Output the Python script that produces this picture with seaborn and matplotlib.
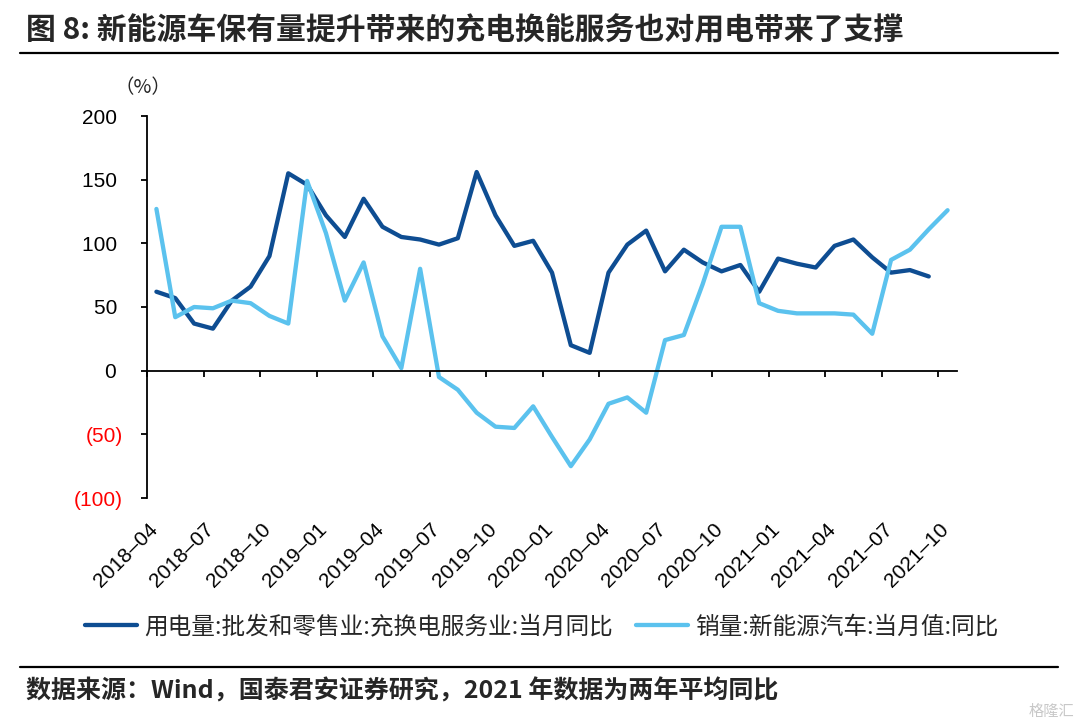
import matplotlib.pyplot as plt
import matplotlib.transforms as mtransforms
from matplotlib.font_manager import FontProperties
from matplotlib.lines import Line2D
import numpy as np
import pandas as pd
import seaborn as sns

# monthly, 2018-04 .. 2021-10 (43 months), labels every 3 months
TICK_LABELS = ['2018–04', '2018–07', '2018–10', '2019–01', '2019–04',
               '2019–07', '2019–10', '2020–01', '2020–04', '2020–07',
               '2020–10', '2021–01', '2021–04', '2021–07', '2021–10']

# 用电量:批发和零售业:充换电服务业:当月同比 (ends 2021-09)
ELEC = [62, 57, 37, 33, 55, 66, 90, 155, 146, 122,
        105, 135, 113, 105, 103, 99, 104, 156, 122, 98,
        102, 77, 20, 14, 77, 99, 110, 78, 95, 85,
        78, 83, 62, 88, 84, 81, 98, 103, 89, 77,
        79, 74]

# 销量:新能源汽车:当月值:同比
NEV = [127, 42, 50, 49, 55, 53, 43, 37, 149, 108,
       55, 85, 27, 2, 80, -5, -15, -33, -44, -45,
       -28, -52, -75, -54, -26, -21, -33, 24, 28, 68,
       113, 113, 53, 47, 45, 45, 45, 44, 29, 87,
       95, 111, 126]

NAMES = ['用电量:批发和零售业:充换电服务业:当月同比', '销量:新能源汽车:当月值:同比']
COLOURS = ['#0E4D92', '#5BC2EE']

YTICKS = [200, 150, 100, 50, 0, -50, -100]

W, H = 1080, 723
CJK = ['Noto Sans CJK SC', 'DejaVu Sans']

sns.set_style('ticks')
plt.rcParams['font.family'] = ['Liberation Sans', 'Noto Sans CJK SC']

fig = plt.figure(figsize=(W / 100, H / 100), dpi=100)
ax = fig.add_axes([147 / W, 1 - 498 / H, (957 - 147) / W, (498 - 116) / H])

df = pd.DataFrame({'month': list(range(len(NEV))),
                   'nev': NEV,
                   'elec': ELEC + [np.nan]})

sns.lineplot(data=df, x='month', y='elec', color=COLOURS[0], lw=3.1,
             label=NAMES[0], ax=ax, solid_joinstyle='round',
             solid_capstyle='round')
sns.lineplot(data=df, x='month', y='nev', color=COLOURS[1], lw=3.1,
             label=NAMES[1], ax=ax, solid_joinstyle='round',
             solid_capstyle='round')

handles, labels = ax.get_legend_handles_labels()
ax.legend().remove()

ax.set_xlim(-0.5, len(NEV) - 0.5)
ax.set_ylim(-100, 200)
ax.set_xlabel('')
ax.set_ylabel('')

for s in ['top', 'right']:
    ax.spines[s].set_visible(False)
ax.spines['bottom'].set_position(('data', 0))
for s in ['left', 'bottom']:
    ax.spines[s].set_color('black')
    ax.spines[s].set_linewidth(1.3)

# x ticks sit between categories, every 3 months
ax.set_xticks(np.arange(-0.5, len(NEV) - 0.5, 3))
ax.tick_params(axis='x', direction='out', length=4.5, width=1.3,
               color='black', labelbottom=False)

ax.set_yticks(YTICKS)
ylabs = [f'{v} ' if v >= 0 else f'({-v})' for v in YTICKS]
ax.set_yticklabels(ylabs)
ax.tick_params(axis='y', direction='out', length=4.5, width=1.3,
               color='black', pad=13, labelsize=15)
for t, v in zip(ax.get_yticklabels(), YTICKS):
    t.set_color('red' if v < 0 else 'black')

# rotated month labels at the bottom of the plot
trans = mtransforms.blended_transform_factory(ax.transData, ax.transAxes)
off = mtransforms.ScaledTranslation(5 / 100, 0, fig.dpi_scale_trans)
for k, lab in enumerate(TICK_LABELS):
    ax.text(3 * k, -0.058, lab, transform=trans + off, rotation=45,
            ha='right', va='top', fontsize=15, color='black')

fig.text(143 / W, 1 - 88 / H, '（%）', ha='center', va='center',
         fontsize=14, family=CJK)

fig.legend(handles, labels, loc='center left',
           bbox_to_anchor=(85 / W, 1 - 627 / H), ncol=2, frameon=False,
           prop=FontProperties(family=CJK, size=17), handlelength=2.2,
           handletextpad=0.3, columnspacing=1.0, borderpad=0,
           borderaxespad=0)

# title, rules and source note
fig.text(26 / W, 1 - 30 / H,
         '图 8: 新能源车保有量提升带来的充电换能服务也对用电带来了支撑',
         ha='left', va='center', fontsize=21.5, fontweight='bold',
         family=CJK)
fig.add_artist(Line2D([20 / W, 1058 / W], [1 - 53 / H] * 2,
                      color='black', lw=1.6))
fig.add_artist(Line2D([20 / W, 1058 / W], [1 - 667 / H] * 2,
                      color='black', lw=1.6))
fig.text(26 / W, 1 - 691 / H,
         '数据来源：Wind，国泰君安证券研究，2021 年数据为两年平均同比',
         ha='left', va='center', fontsize=18, fontweight='bold', family=CJK)
fig.text(1074 / W, 1 - 711 / H, '格隆汇', ha='right', va='center',
         fontsize=11, color='#c8c8c8', family=CJK)

fig.savefig('out.png', dpi=100)
